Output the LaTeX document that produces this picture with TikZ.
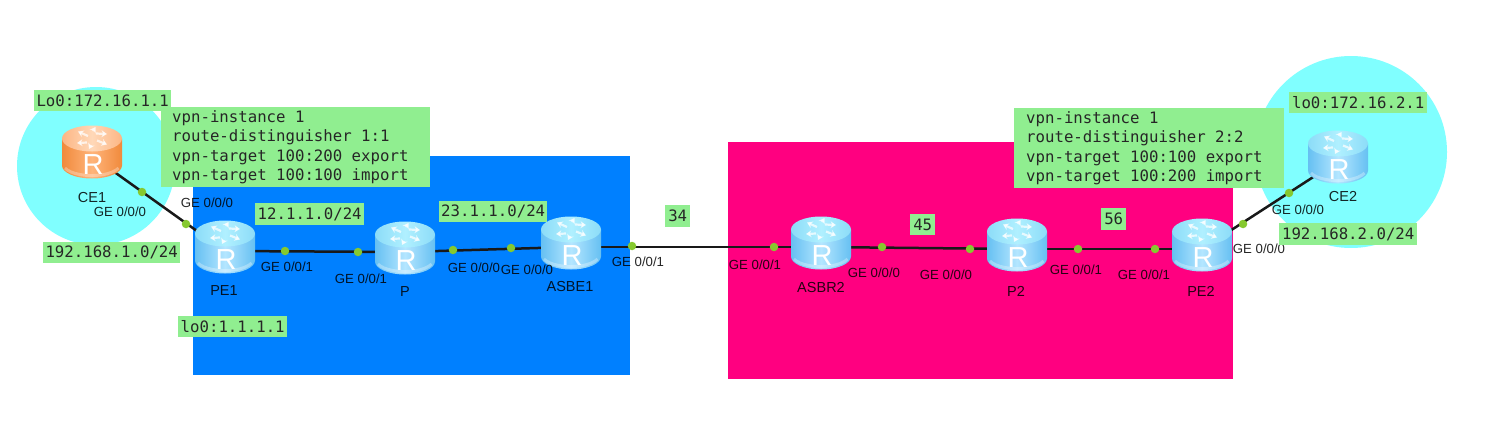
\documentclass[tikz,border=0pt]{standalone}
\usepackage{fontspec}
\setmainfont{Liberation Sans}
\newfontfamily\boxfont{DejaVu Sans Mono}
\usetikzlibrary{arrows.meta}
\definecolor{cyanzone}{HTML}{80FFFF}
\definecolor{bluezone}{HTML}{0080FF}
\definecolor{pinkzone}{HTML}{FF0080}
\definecolor{notegreen}{HTML}{90EE90}
\definecolor{dotgreen}{HTML}{86C92F}
\definecolor{bluemid}{HTML}{B4E6FF}
\definecolor{blueedge}{HTML}{66C0F2}
\definecolor{bluetop}{HTML}{B0F0FF}
\definecolor{bluetopedge}{HTML}{8CDCF8}
\definecolor{orangemid}{HTML}{FFB47A}
\definecolor{orangeedge}{HTML}{F08A3C}
\definecolor{orangetop}{HTML}{FFD8B8}
\definecolor{orangetopedge}{HTML}{FCB684}
\newcommand{\msp}{\hbox to 9.44pt{}}
\tikzset{
  x=1pt,y=-1pt,
  routerbase/.style={inner sep=0,minimum width=60pt,minimum height=53pt},
  link/.style={line width=2.5pt,black!90},
  port/.style={circle,fill=dotgreen,inner sep=0,minimum size=8.5pt},
  iflabel/.style={font=\fontsize{13.2}{15}\selectfont,text=black,text opacity=.85,inner sep=0},
  namelabel/.style={font=\fontsize{14.5}{16}\selectfont,text=black,text opacity=.85,inner sep=0},
  note/.style={fill=notegreen,font=\boxfont\fontsize{15.7}{19.3}\selectfont,text=black!85,inner sep=0,align=left,anchor=north west},
  swirl/.style={white,opacity=.72,line width=2.2pt,-{Stealth[length=5.5pt,width=7pt]}},
}
% name, edge, mid, top, topedge : body centre lies 4 above the link height
\newcommand{\routericon}[5]{%
  \begin{scope}[shift={(#1.center)},yshift=4pt,yscale=-1]
    \path[left color=#2,right color=#2,middle color=#3]
      (-30,13.5) -- (-30,-13.5) arc[start angle=180,end angle=360,x radius=30,y radius=13] -- (30,13.5) -- cycle;
    \draw[white,opacity=.3,line width=3pt]
      (-27,-16) arc[start angle=200,end angle=340,x radius=28.5,y radius=11.5];
    \path[left color=#5,right color=#5,middle color=#4]
      (0,13.5) ellipse[x radius=30,y radius=13];
    \draw[swirl] (-4,16) -- (-14,20.5);
    \draw[swirl] (1,21) -- (3.5,25);
    \draw[swirl] (4,18.5) -- (15,18);
    \draw[swirl] (-5,9.5) -- (-15,9);
    \draw[swirl] (5,11.5) -- (15,7.5);
    \draw[swirl] (-1,7) -- (-3,3);
    \node[white,inner sep=0,font=\fontsize{29}{29}\selectfont] (#1-r) at (1,-13) {R};
  \end{scope}}
\begin{document}
\begin{tikzpicture}
  \useasboundingbox[fill=white] (0,0) rectangle (1495,423);
  % zones
  \fill[cyanzone] (96,166) circle[radius=79];
  \fill[cyanzone] (1351,152) circle[radius=96];
  \fill[bluezone] (193,156) rectangle (630,375);
  \fill[pinkzone] (728,142) rectangle (1233,379);
  % router anchors (at link height)
  \node[routerbase] (ce1) at (92,156) {};
  \node[routerbase] (pe1) at (225,251) {};
  \node[routerbase] (pr) at (405,252) {};
  \node[routerbase] (asbe1) at (571,247) {};
  \node[routerbase] (asbr2) at (821,247) {};
  \node[routerbase] (p2) at (1017,249) {};
  \node[routerbase] (pe2) at (1202,249) {};
  \node[routerbase] (ce2) at (1338,161) {};
  % links
  \draw[link] (ce1.center) -- (pe1.center);
  \draw[link] (pe1.center) -- (pr.center);
  \draw[link] (pr.center) -- (asbe1.center);
  \draw[link] (asbe1.center) -- (asbr2.center);
  \draw[link] (asbr2.center) -- (p2.center);
  \draw[link] (p2.center) -- (pe2.center);
  \draw[link] (pe2.center) -- (ce2.center);
  % routers
  \routericon{ce1}{orangeedge}{orangemid}{orangetop}{orangetopedge}
  \routericon{pe1}{blueedge}{bluemid}{bluetop}{bluetopedge}
  \routericon{pr}{blueedge}{bluemid}{bluetop}{bluetopedge}
  \routericon{asbe1}{blueedge}{bluemid}{bluetop}{bluetopedge}
  \routericon{asbr2}{blueedge}{bluemid}{bluetop}{bluetopedge}
  \routericon{p2}{blueedge}{bluemid}{bluetop}{bluetopedge}
  \routericon{pe2}{blueedge}{bluemid}{bluetop}{bluetopedge}
  \routericon{ce2}{blueedge}{bluemid}{bluetop}{bluetopedge}
  % ports
  \node[port] (d1) at (142,192) {};
  \node[port] (d2) at (186,224) {};
  \node[port] (d3) at (285,251) {};
  \node[port] (d4) at (358,252) {};
  \node[port] (d5) at (453,250) {};
  \node[port] (d6) at (511,248) {};
  \node[port] (d7) at (632,246) {};
  \node[port] (d8) at (774,247) {};
  \node[port] (d9) at (882,247) {};
  \node[port] (d10) at (970,249) {};
  \node[port] (d11) at (1078,249) {};
  \node[port] (d12) at (1155,249) {};
  \node[port] (d13) at (1243,224) {};
  \node[port] (d14) at (1289,193) {};
  % interface labels
  \node[iflabel] (i1) at (120,212) {GE 0/0/0};
  \node[iflabel] (i2) at (207,203) {GE 0/0/0};
  \node[iflabel] (i3) at (287,267) {GE 0/0/1};
  \node[iflabel] (i4) at (361,279) {GE 0/0/1};
  \node[iflabel] (i5) at (474,268) {GE 0/0/0};
  \node[iflabel] (i6) at (527,270) {GE 0/0/0};
  \node[iflabel] (i7) at (638,262) {GE 0/0/1};
  \node[iflabel] (i8) at (755,265) {GE 0/0/1};
  \node[iflabel] (i9) at (874,273) {GE 0/0/0};
  \node[iflabel] (i10) at (946,275) {GE 0/0/0};
  \node[iflabel] (i11) at (1076,270) {GE 0/0/1};
  \node[iflabel] (i12) at (1144,275) {GE 0/0/1};
  \node[iflabel] (i13) at (1259,249) {GE 0/0/0};
  \node[iflabel] (i14) at (1298,210) {GE 0/0/0};
  % router names
  \node[namelabel] (n1) at (92,198) {CE1};
  \node[namelabel] (n2) at (224,291) {PE1};
  \node[namelabel] (n3) at (405,292) {P};
  \node[namelabel] (n4) at (570,287) {ASBE1};
  \node[namelabel] (n5) at (821,288) {ASBR2};
  \node[namelabel] (n6) at (1016,291) {P2};
  \node[namelabel] (n7) at (1201,291) {PE2};
  \node[namelabel] (n8) at (1343,197) {CE2};
  % notes
  \node[note,minimum width=137pt,minimum height=21pt,align=center] (a1) at (34,90) {Lo0:172.16.1.1};
  \node[note,minimum width=269pt,minimum height=80pt,text width=247pt] (a2) at (161,107) {vpn-instance\msp 1\\route-distinguisher\msp 1:1\\vpn-target\msp 100:200\msp export\\vpn-target\msp 100:100\msp import};
  \node[note,minimum width=109pt,minimum height=22pt,align=center] (a3) at (255,203) {12.1.1.0/24};
  \node[note,minimum width=137pt,minimum height=21pt,align=center] (a4) at (43,242) {192.168.1.0/24};
  \node[note,minimum width=109pt,minimum height=21pt,align=center] (a5) at (178,316) {lo0:1.1.1.1};
  \node[note,minimum width=108pt,minimum height=21pt,align=center] (a6) at (439,201) {23.1.1.0/24};
  \node[note,minimum width=25pt,minimum height=22pt,align=center] (a7) at (665,205) {34};
  \node[note,minimum width=25pt,minimum height=21pt,align=center] (a8) at (910,214) {45};
  \node[note,minimum width=25pt,minimum height=22pt,align=center] (a9) at (1101,208) {56};
  \node[note,minimum width=270pt,minimum height=80pt,text width=246pt] (a10) at (1014,108) {vpn-instance\msp 1\\route-distinguisher\msp 2:2\\vpn-target\msp 100:100\msp export\\vpn-target\msp 100:200\msp import};
  \node[note,minimum width=138pt,minimum height=21pt,align=center] (a11) at (1289,92) {lo0:172.16.2.1};
  \node[note,minimum width=138pt,minimum height=22pt,align=center] (a12) at (1279,223) {192.168.2.0/24};
\end{tikzpicture}
\end{document}
